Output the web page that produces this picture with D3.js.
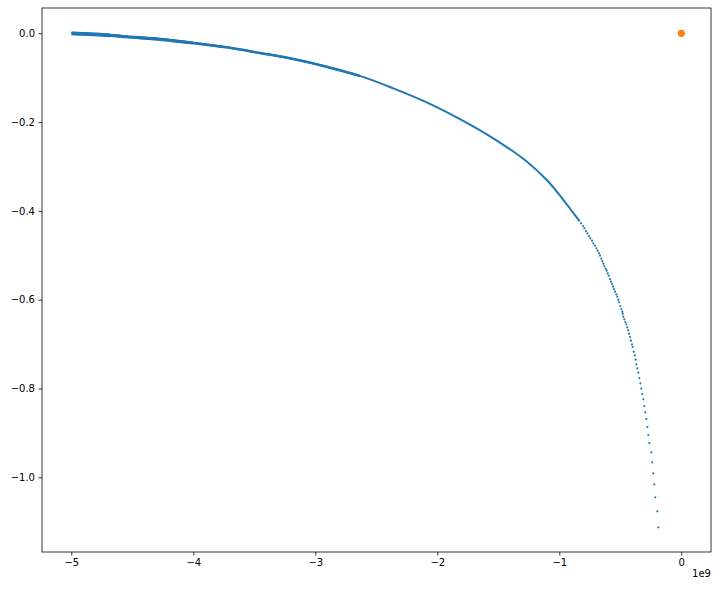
<!DOCTYPE html>
<html>
<head>
<meta charset="utf-8">
<script src="https://cdn.jsdelivr.net/npm/d3@7"></script>
<style>
  html, body { margin: 0; padding: 0; background: #fff; }
  svg { display: block; }
  text { font-family: "DejaVu Sans", sans-serif; }
</style>
</head>
<body>
<svg id="chart" width="728" height="589"></svg>
<script>
// Dense part of the trajectory (points overlap into a continuous band), x in units of 1e9
const denseX = [-4.997, -4.820, -4.683, -4.546, -4.273, -4.000, -3.726, -3.453, -3.180, -2.907,
                -2.634, -2.361, -2.087, -1.814, -1.541, -1.267, -1.103, -0.994, -0.885, -0.838];
const denseY = [0.000, -0.0023, -0.0045, -0.0077, -0.0135, -0.0218, -0.0315, -0.0444, -0.0579, -0.0752,
                -0.0959, -0.1239, -0.1554, -0.1932, -0.2365, -0.2887, -0.3304, -0.3653, -0.4047, -0.4220];

// Individually visible points near the end of the trajectory
const sparseX = [-0.8385, -0.8221, -0.8057, -0.7948, -0.7811, -0.7702, -0.7566, -0.7457, -0.7320, -0.7211,
                 -0.7074, -0.6965, -0.6855, -0.6746, -0.6664, -0.6555, -0.6473, -0.6391, -0.6309, -0.6199,
                 -0.6117, -0.6036, -0.5954, -0.5844, -0.5762, -0.5680, -0.5598, -0.5516, -0.5434, -0.5325,
                 -0.5243, -0.5161, -0.5107, -0.4998, -0.4916, -0.4834, -0.4806, -0.4752, -0.4670, -0.4588,
                 -0.4506, -0.4424, -0.4342, -0.4287, -0.4205, -0.4123, -0.4041, -0.3986, -0.3904, -0.3822,
                 -0.3740, -0.3686, -0.3604, -0.3522, -0.3440, -0.3358, -0.3276, -0.3194, -0.3112, -0.3030,
                 -0.2948, -0.2866, -0.2784, -0.2702, -0.2620, -0.2459, -0.2377, -0.2295, -0.2213, -0.2131,
                 -0.1967, -0.1885];
const sparseY = [-0.4220, -0.4280, -0.4340, -0.4393, -0.4453, -0.4505, -0.4565, -0.4618, -0.4670, -0.4730,
                 -0.4783, -0.4843, -0.4896, -0.4956, -0.5008, -0.5076, -0.5136, -0.5188, -0.5241, -0.5301,
                 -0.5346, -0.5406, -0.5459, -0.5534, -0.5594, -0.5646, -0.5706, -0.5759, -0.5819, -0.5879,
                 -0.5932, -0.5999, -0.6059, -0.6142, -0.6209, -0.6269, -0.6315, -0.6382, -0.6442, -0.6502,
                 -0.6555, -0.6622, -0.6690, -0.6765, -0.6840, -0.6923, -0.7005, -0.7065, -0.7170, -0.7253,
                 -0.7350, -0.7456, -0.7546, -0.7643, -0.7764, -0.7884, -0.8004, -0.8124, -0.8244, -0.8394,
                 -0.8537, -0.8687, -0.8867, -0.9047, -0.9227, -0.9437, -0.9662, -0.9910, -1.0158, -1.0450,
                 -1.0766, -1.1126];

// Central body
const centerX = [0];
const centerY = [0];

const xTicks = [-5, -4, -3, -2, -1, 0];
const yTicks = [0.0, -0.2, -0.4, -0.6, -0.8, -1.0];
const offsetLabel = "1e9";

const svg = d3.select("#chart");
const L = 42, R = 711, T = 8, B = 552;

const x = d3.scaleLinear().domain([-5.24, 0.2434]).range([L, R]);
const y = d3.scaleLinear().domain([-1.1682, 0.057]).range([B, T]);

svg.append("rect").attr("width", 728).attr("height", 589).attr("fill", "#fff");

// dense band: smooth curve through the read points, thicker where points pile up
const densePts = denseX.map((d, i) => [d, denseY[i]]);
const line = d3.line().x(d => x(d[0])).y(d => y(d[1])).curve(d3.curveCatmullRom.alpha(0.5));
const bands = [
  { maxX: 0, w: 2.0 },
  { maxX: -2.6, w: 2.6 },
  { maxX: -4.0, w: 3.2 },
  { maxX: -4.6, w: 3.8 }
];
bands.forEach(b => {
  const pts = densePts.filter(p => p[0] <= b.maxX);
  svg.append("path")
    .attr("d", line(pts))
    .attr("fill", "none")
    .attr("stroke", "#1f77b4")
    .attr("stroke-width", b.w)
    .attr("stroke-linecap", "butt");
});

// sparse points
svg.append("g").selectAll("circle")
  .data(sparseX.map((d, i) => [d, sparseY[i]]))
  .join("circle")
  .attr("cx", d => x(d[0]))
  .attr("cy", d => y(d[1]))
  .attr("r", 1.1)
  .attr("fill", "#1f77b4");

// center point
svg.append("g").selectAll("circle")
  .data(centerX.map((d, i) => [d, centerY[i]]))
  .join("circle")
  .attr("cx", d => x(d[0]))
  .attr("cy", d => y(d[1]))
  .attr("r", 3.6)
  .attr("fill", "#ff7f0e");

// axes
const xAxis = d3.axisBottom(x).tickValues(xTicks).tickSize(3.5).tickPadding(3.5).tickFormat(d3.format("d"));
const yAxis = d3.axisLeft(y).tickValues(yTicks).tickSize(3.5).tickPadding(3.5).tickFormat(d3.format(".1f"));

const gx = svg.append("g").attr("transform", `translate(0,${B})`).call(xAxis);
const gy = svg.append("g").attr("transform", `translate(${L},0)`).call(yAxis);
[gx, gy].forEach(g => {
  g.select(".domain").remove();
  g.selectAll("line").attr("stroke", "#000").attr("stroke-width", 0.8);
  g.selectAll("text").attr("fill", "#000").attr("font-size", 10).attr("font-family", "DejaVu Sans");
});

// frame
svg.append("rect")
  .attr("x", L).attr("y", T).attr("width", R - L).attr("height", B - T)
  .attr("fill", "none").attr("stroke", "#000").attr("stroke-width", 0.8);

// offset text
svg.append("text")
  .attr("x", R).attr("y", 577)
  .attr("text-anchor", "end")
  .attr("font-size", 10)
  .attr("fill", "#000")
  .text(offsetLabel);
</script>
</body>
</html>
